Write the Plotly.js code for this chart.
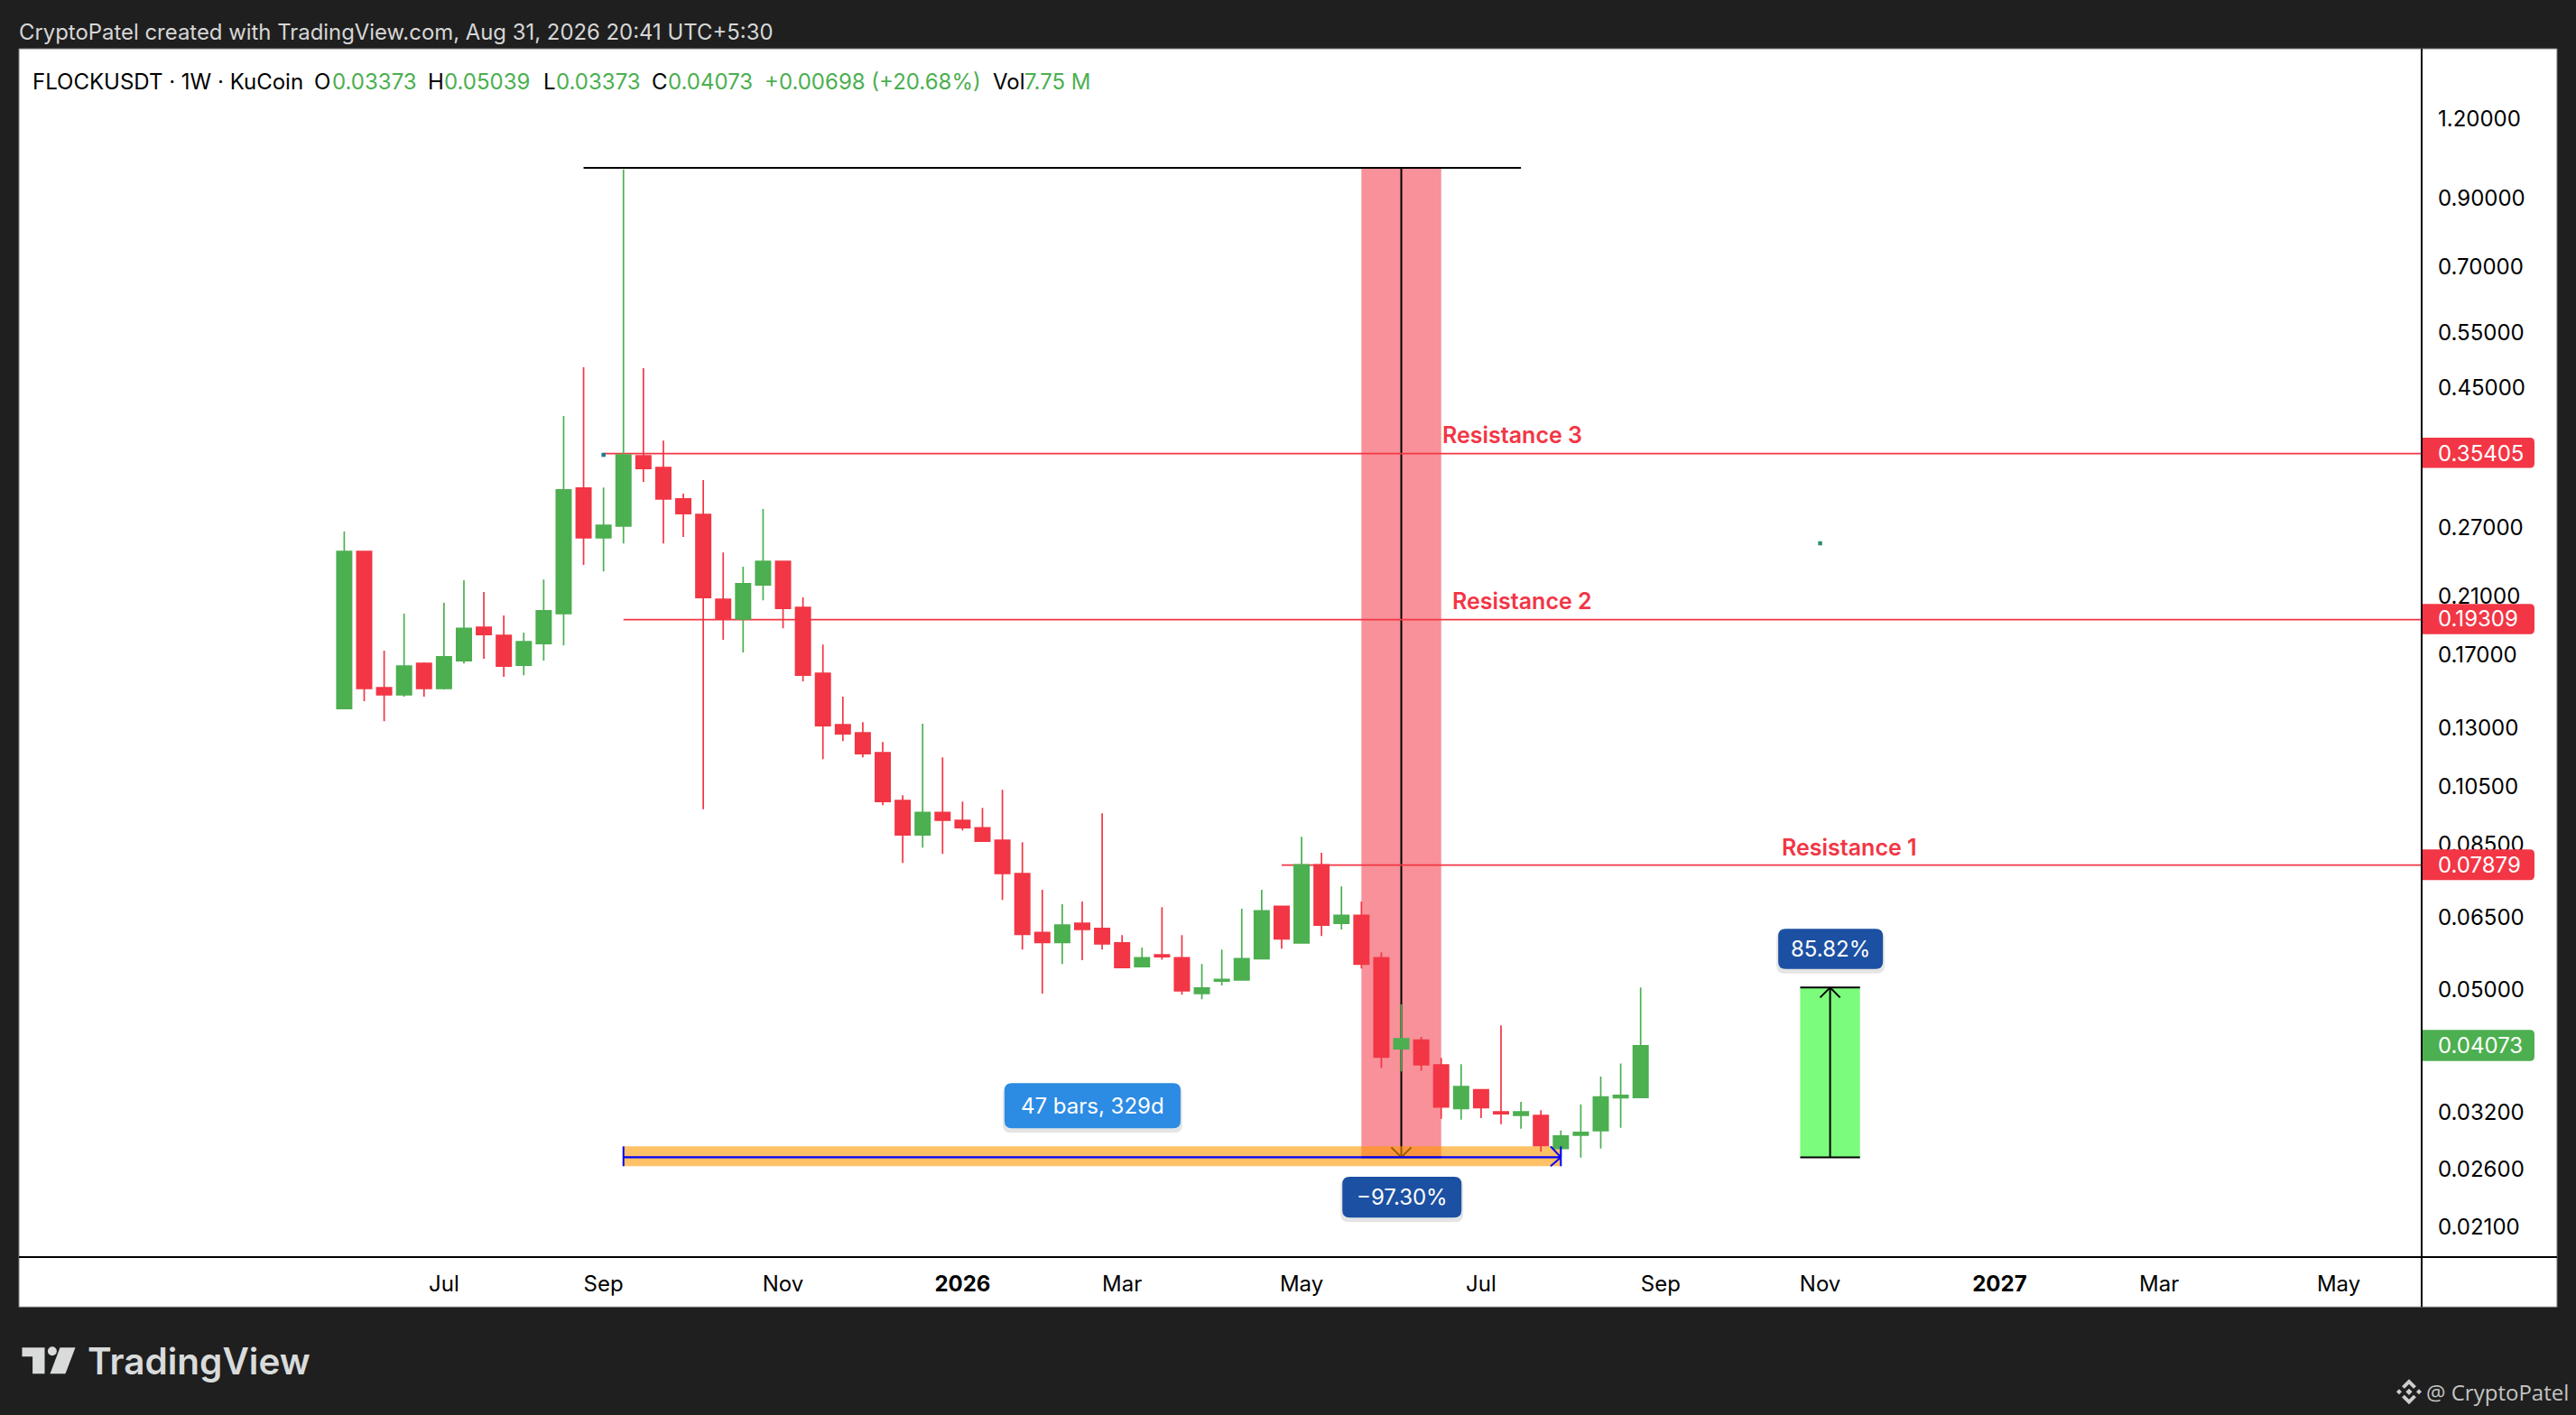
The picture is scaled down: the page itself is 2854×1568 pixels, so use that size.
<!DOCTYPE html>
<html><head><meta charset="utf-8">
<script src="https://cdn.plot.ly/plotly-3.0.1.min.js"></script>
<style>html,body{margin:0;padding:0;background:#1f1f1f}#c{width:2854px;height:1568px}</style>
</head><body><div id="c"></div>
<script>
// ---------- data ----------
const weeks=["2025-06-02","2025-06-09","2025-06-16","2025-06-23","2025-06-30","2025-07-07","2025-07-14","2025-07-21","2025-07-28","2025-08-04","2025-08-11","2025-08-18","2025-08-25","2025-09-01","2025-09-08","2025-09-15","2025-09-22","2025-09-29","2025-10-06","2025-10-13","2025-10-20","2025-10-27","2025-11-03","2025-11-10","2025-11-17","2025-11-24","2025-12-01","2025-12-08","2025-12-15","2025-12-22","2025-12-29","2026-01-05","2026-01-12","2026-01-19","2026-01-26","2026-02-02","2026-02-09","2026-02-16","2026-02-23","2026-03-02","2026-03-09","2026-03-16","2026-03-23","2026-03-30","2026-04-06","2026-04-13","2026-04-20","2026-04-27","2026-05-04","2026-05-11","2026-05-18","2026-05-25","2026-06-01","2026-06-08","2026-06-15","2026-06-22","2026-06-29","2026-07-06","2026-07-13","2026-07-20","2026-07-27","2026-08-03","2026-08-10","2026-08-17","2026-08-24","2026-08-31"];
const opens=[.1396,.2475,.1506,.1467,.1645,.1501,.1662,.1877,.1822,.1634,.1769,.1973,.3120,.2602,.2717,.3511,.3363,.2999,.2833,.2079,.1935,.2192,.2387,.2018,.1587,.1315,.1277,.1188,.0997,.0880,.0955,.0928,.0903,.0863,.0764,.0616,.0594,.0637,.0625,.0593,.0544,.0568,.0562,.0493,.0516,.0518,.0560,.0678,.0593,.0789,.0637,.0656,.0562,.0403,.0416,.0380,.0324,.0347,.0320,.0316,.0316,.0280,.0294,.0299,.0337,.03373];
const highs=[.2662,.2475,.1724,.1973,.1651,.2053,.2228,.2136,.1960,.1841,.2235,.4060,.4851,.3127,.9983,.4835,.3712,.3057,.3214,.2467,.2342,.2892,.2387,.2093,.1763,.1457,.1328,.1235,.1017,.1320,.1168,.0994,.0971,.1037,.0857,.0720,.0683,.0690,.0952,.0610,.0583,.0676,.0610,.0549,.0579,.0672,.0720,.0678,.0874,.0824,.0729,.0690,.0573,.0474,.0421,.0390,.0381,.0347,.0439,.0332,.0322,.0299,.0329,.0364,.0382,.05039];
const lows=[.1396,.1433,.1332,.1457,.1457,.1496,.1645,.1674,.1567,.1576,.1662,.1757,.2358,.2302,.2550,.3192,.2550,.2611,.0966,.1794,.1712,.2072,.1870,.1541,.1160,.1239,.1168,.0981,.0794,.0840,.0821,.0894,.0860,.0694,.0579,.0493,.0549,.0557,.0579,.0542,.0544,.0558,.0491,.0483,.0508,.0518,.0560,.0581,.0593,.0608,.0623,.0540,.0376,.0371,.0372,.0312,.0311,.0313,.0306,.0301,.0277,.02712,.0271,.0280,.0302,.03373];
const closes=[.2475,.1501,.1467,.1629,.1501,.1685,.1870,.1828,.1629,.1781,.1993,.3099,.2602,.2723,.3523,.3351,.2999,.2843,.2093,.1935,.2200,.2387,.2011,.1576,.1311,.1273,.1184,.0994,.0880,.0955,.0928,.0903,.0860,.0764,.0612,.0594,.0633,.0623,.0591,.0542,.0562,.0564,.0498,.0503,.0519,.0560,.0667,.0602,.0789,.0633,.0656,.0549,.0391,.0418,.0380,.0326,.0351,.0325,.0318,.0320,.0283,.0293,.0297,.0338,.0340,.04073];

const priceTicks=[1.2,.9,.7,.55,.45,.27,.21,.17,.13,.105,.085,.065,.05,.032,.026,.021];
const priceTickText=["1.20000","0.90000","0.70000","0.55000","0.45000","0.27000","0.21000","0.17000","0.13000","0.10500","0.08500","0.06500","0.05000","0.03200","0.02600","0.02100"];
const timeTicks=["2025-07-07","2025-09-01","2025-11-03","2026-01-05","2026-03-02","2026-05-04","2026-07-06","2026-09-07","2026-11-02","2027-01-04","2027-03-01","2027-05-03"];
const timeTickText=["Jul","Sep","Nov","<b>2026</b>","Mar","May","Jul","Sep","Nov","<b>2027</b>","Mar","May"];

const resistancePrices=[.35405,.19309,.07879];
const resistanceStarts=["2025-09-01","2025-09-08","2026-04-27"];
const resistanceNames=["Resistance 3","Resistance 2","Resistance 1"];
const rangeHigh=1.0044, rangeLow=.02712, bounceHigh=.05039, lastClose=.04073;

// ---------- frame ----------
const L=20.5,R=2683,T=54,B=1392.7,W=2854,H=1568;
const PR=2833,PB=1448;
const RED="#F23645",GREEN="#4CAF50",FONT="Inter, 'Noto Sans', sans-serif";
const X=p=>(p-L)/(R-L), Y=p=>(B-p)/(B-T);
const shift=(d,days)=>new Date(Date.parse(d+"T00:00:00Z")+days*864e5).toISOString().slice(0,19);
const lineColor=(c,w)=>({color:c,width:w});
const rr=(x0,y0,x1,y1,r,left=true)=>{const rl=left?r:0;
 return `M ${X(x0+rl)} ${Y(y0)} L ${X(x1-r)} ${Y(y0)} Q ${X(x1)} ${Y(y0)} ${X(x1)} ${Y(y0+r)} L ${X(x1)} ${Y(y1-r)} Q ${X(x1)} ${Y(y1)} ${X(x1-r)} ${Y(y1)} L ${X(x0+rl)} ${Y(y1)} Q ${X(x0)} ${Y(y1)} ${X(x0)} ${Y(y1-rl)} L ${X(x0)} ${Y(y0+rl)} Q ${X(x0)} ${Y(y0)} ${X(x0+rl)} ${Y(y0)} Z`;};
const poly=pts=>"M "+pts.map(p=>X(p[0])+" "+Y(p[1])).join(" L ")+" Z";
const pshape=(path,fill,layer="above",opacity=1)=>({type:"path",xref:"paper",yref:"paper",path,fillcolor:fill,line:{width:0},layer,opacity});
const seg=(x0,y0,x1,y1,c,w,layer="below")=>({type:"line",xref:"x",yref:"y",x0,y0,x1,y1,line:lineColor(c,w),layer});
const box=(x0,y0,x1,y1,fill)=>({type:"rect",xref:"x",yref:"y",x0,y0,x1,y1,fillcolor:fill,line:{width:0},layer:"below"});
const up=(p,px)=>p*Math.exp(px/303.5);

const shapes=[];
// white panel
shapes.push({type:"rect",xref:"paper",yref:"paper",x0:X(L),x1:X(PR),y0:Y(PB),y1:Y(T),fillcolor:"#fff",line:{color:"#7d7d7d",width:1},layer:"below"});
// pink drop zone with its arrow
shapes.push(box("2026-05-25",rangeLow,"2026-06-22",rangeHigh,"rgba(242,54,69,.55)"));
shapes.push(seg("2025-08-25",rangeHigh,"2026-07-20",rangeHigh,"#000",2.2));
shapes.push(seg("2026-05-25",rangeLow,"2026-06-22",rangeLow,"#000",2.2));
shapes.push(seg("2026-06-08",rangeHigh,"2026-06-08",rangeLow,"#000",2));
shapes.push(seg(shift("2026-06-08",-3.5),up(rangeLow,11),"2026-06-08",rangeLow,"#000",2));
shapes.push(seg(shift("2026-06-08",3.5),up(rangeLow,11),"2026-06-08",rangeLow,"#000",2));
// orange date band
shapes.push(box("2025-09-08",.02625,"2026-08-03",.02822,"rgba(255,152,0,.6)"));
// resistance lines
resistancePrices.forEach((p,i)=>shapes.push(seg(resistanceStarts[i],p,shift("2027-05-03",29),p,RED,1.8)));
// green bounce zone
shapes.push(box("2026-10-26",rangeLow,"2026-11-16",bounceHigh,"#7CFC7C"));
shapes.push(seg("2026-10-26",bounceHigh,"2026-11-16",bounceHigh,"#000",2));
shapes.push(seg("2026-10-26",rangeLow,"2026-11-16",rangeLow,"#000",2));
const mid=shift("2026-11-02",3.5);
shapes.push(seg(mid,rangeLow,mid,bounceHigh,"#000",2));
shapes.push(seg(shift("2026-11-02",0),bounceHigh/Math.exp(11/303.5),mid,bounceHigh,"#000",2));
shapes.push(seg(shift("2026-11-02",7),bounceHigh/Math.exp(11/303.5),mid,bounceHigh,"#000",2));
// blue measuring arrow
shapes.push(seg("2025-09-08",rangeLow,"2026-08-03",rangeLow,"#0000ff",2.4,"above"));
shapes.push(seg("2025-09-08",.02625,"2025-09-08",.02822,"#0000ff",2,"above"));
shapes.push(seg("2026-08-03",.02625,"2026-08-03",.02822,"#0000ff",2,"above"));
shapes.push(seg(shift("2026-08-03",-3.6),.02822,"2026-08-03",rangeLow,"#0000ff",2,"above"));
shapes.push(seg(shift("2026-08-03",-3.6),.02625,"2026-08-03",rangeLow,"#0000ff",2,"above"));
// axis frame extensions
shapes.push({type:"line",xref:"paper",yref:"paper",x0:X(R),x1:X(R),y0:Y(T),y1:Y(PB),line:lineColor("#000",2),layer:"above"});
shapes.push({type:"line",xref:"paper",yref:"paper",x0:X(L),x1:X(PR),y0:Y(B),y1:Y(B),line:lineColor("#000",2),layer:"above"});
// price pills
[[485,518.4,RED],[669,702.6,RED],[941,975,RED],[1141,1175.5,GREEN]].forEach(a=>shapes.push(pshape(rr(R+1,a[0],2808,a[1],5,false),a[2])));
// label pills with soft shadow
[[1112.6,1200,1307.7,1250,"#2C8BE3"],[1487,1303.7,1619,1349,"#1C50A3"],[1970,1029,2086,1073.5,"#1C50A3"]].forEach(a=>{
  shapes.push(pshape(rr(a[0]-2,a[1]+2,a[2]+2,a[3]+5,9),"#000","above",.1));
  shapes.push(pshape(rr(a[0],a[1],a[2],a[3],8),a[4]));
});
// TradingView logo
const logo="#D9DBDB";
shapes.push(pshape(poly([[24,1493],[49,1493],[49,1522],[35.6,1522],[35.6,1503],[24,1503]]),logo));
shapes.push({type:"circle",xref:"paper",yref:"paper",x0:X(52.4),x1:X(62.4),y0:Y(1502),y1:Y(1492),fillcolor:logo,line:{width:0},layer:"above"});
shapes.push(pshape(poly([[66,1493],[83,1493],[72,1522],[55,1522]]),logo));
// binance style mark in the footer
const ic="#CDCDCD",cx=2669,cy=1542;
const dia=(x,y,r)=>poly([[x,y-r],[x+r,y],[x,y+r],[x-r,y]]);
shapes.push(pshape(dia(cx,cy,3.6),ic));
shapes.push(pshape(dia(cx-11,cy,3),ic));
shapes.push(pshape(dia(cx+11,cy,3),ic));
shapes.push(pshape(poly([[cx,cy-14],[cx+8,cy-6],[cx+5,cy-3.5],[cx,cy-8.5],[cx-5,cy-3.5],[cx-8,cy-6]]),ic));
shapes.push(pshape(poly([[cx,cy+14],[cx+8,cy+6],[cx+5,cy+3.5],[cx,cy+8.5],[cx-5,cy+3.5],[cx-8,cy+6]]),ic));

// ---------- texts ----------
const ann=(text,px,py,size,color,anchor="left",weight=400,family=FONT)=>({text,xref:"paper",yref:"paper",x:X(px),y:Y(py),xanchor:anchor,yanchor:"middle",showarrow:false,borderpad:0,borderwidth:0,font:{family,size,color,weight},align:anchor});
const annotations=[
 ann("CryptoPatel created with TradingView.com, Aug 31, 2026 20:41 UTC+5:30",20,36,23.9,"#D6D6D6"),
 ann("FLOCKUSDT · 1W · KuCoin",36,90,24,"#000"),
 ann("O",348,90,24,"#000"),ann("0.03373",368,90,24,GREEN),
 ann("H",474,90,24,"#000"),ann("0.05039",492,90,24,GREEN),
 ann("L",602,90,24,"#000"),ann("0.03373",616,90,24,GREEN),
 ann("C",722,90,24,"#000"),ann("0.04073",740,90,24,GREEN),
 ann("+0.00698 (+20.68%)",847,90,24,GREEN),
 ann("Vol",1100,90,24,"#000"),ann("7.75 M",1135,90,24,GREEN),
 ann(resistanceNames[0],1598,482,25,RED,"left",600),
 ann(resistanceNames[1],1609,666,25,RED,"left",600),
 ann(resistanceNames[2],1974,939,25,RED,"left",600),
 ann("0.35405",2701,502,24,"#fff"),ann("0.19309",2701,685.7,24,"#fff"),
 ann("0.07879",2701,958.3,24,"#fff"),ann("0.04073",2701,1158.5,24,"#fff"),
 ann("47 bars, 329d",1210,1225,24,"#fff","center"),
 ann("−97.30%",1553,1326.5,24,"#fff","center"),
 ann("85.82%",2028,1051,24,"#fff","center"),
 ann("TradingView",97,1508,40.5,"#D9DBDB","left",600),
 ann("@ CryptoPatel",2688,1542,24,"#C4C4C4","left",400,"'Open Sans','Noto Sans',sans-serif"),
];

// ---------- chart ----------
const candles={type:"candlestick",x:weeks,open:opens,high:highs,low:lows,close:closes,
 whiskerwidth:0,hoverinfo:"skip",showlegend:false,
 increasing:{line:{color:GREEN,width:1.7},fillcolor:GREEN},
 decreasing:{line:{color:RED,width:1.7},fillcolor:RED}};
const specks={type:"scatter",mode:"markers",x:["2025-09-01","2026-11-02"],y:[.3523,.2551],hoverinfo:"skip",showlegend:false,
 marker:{size:4.5,color:["#1F7A8C","#2E8F6E"],symbol:"square"}};

const layout={width:W,height:H,autosize:false,showlegend:false,
 paper_bgcolor:"#1f1f1f",plot_bgcolor:"#fff",boxgap:.263,boxgroupgap:0,
 margin:{l:L,r:W-R,t:T,b:H-B,pad:0},
 font:{family:FONT,size:24,color:"#000"},
 xaxis:{type:"date",range:[shift(weeks[0],-16.31*7),shift(weeks[0],104.16*7)],rangeslider:{visible:false},
  tickmode:"array",tickvals:timeTicks,ticktext:timeTickText,ticks:"",showgrid:false,zeroline:false,showline:false,ticklabelstandoff:13,
  tickfont:{family:FONT,size:24,color:"#000"},fixedrange:true},
 yaxis:{type:"log",side:"right",range:[-1.72493,0.19077],autorange:false,tickmode:"array",tickvals:priceTicks,ticktext:priceTickText,
  ticks:"",showgrid:false,zeroline:false,showline:false,ticklabelstandoff:17,
  tickfont:{family:FONT,size:24,color:"#000"},fixedrange:true},
 shapes,annotations};
Plotly.newPlot("c",[candles,specks],layout,{staticPlot:true,displayModeBar:false});
</script></body></html>
